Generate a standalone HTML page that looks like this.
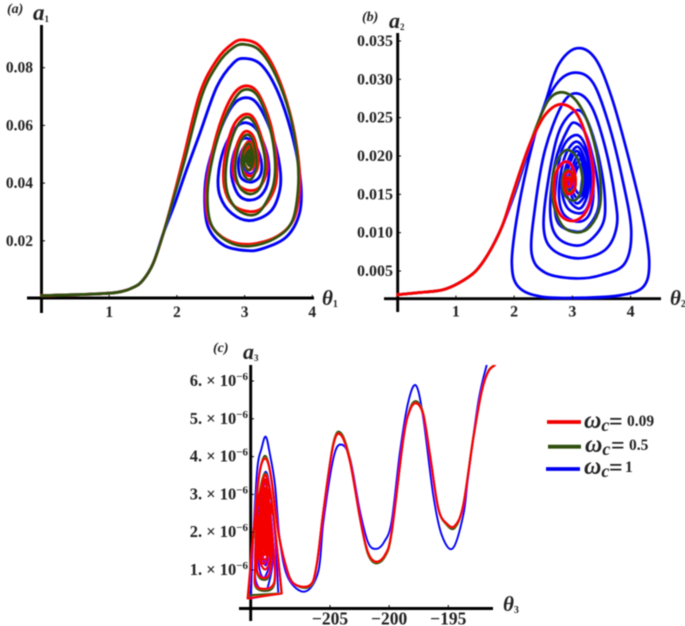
<!DOCTYPE html>
<html lang="en">
<head>
<meta charset="utf-8">
<title>Phase portraits a versus theta</title>
<style>
html,body{margin:0;padding:0;background:#fff;width:685px;height:626px;overflow:hidden}
svg{display:block}
text{font-family:"Liberation Serif",serif;fill:#222}
.tick{font-weight:bold}
.lab{font-weight:bold;font-style:italic}
</style>
</head>
<body>
<svg id="fig" xmlns="http://www.w3.org/2000/svg" width="685" height="626" viewBox="0 0 685 626">
<defs>
<filter id="soft" x="-2%" y="-2%" width="104%" height="104%"><feGaussianBlur stdDeviation="0.55"/></filter>
<clipPath id="clipC"><rect x="230" y="365" width="270" height="250"/></clipPath>
</defs>
<g id="root" filter="url(#soft)">

<line x1="41.5" y1="25" x2="41.5" y2="313" stroke="#000" stroke-width="2.9"/>
<line x1="27" y1="298" x2="314" y2="298" stroke="#000" stroke-width="2.9"/>
<line x1="397.7" y1="33" x2="397.7" y2="312" stroke="#000" stroke-width="2.9"/>
<line x1="384" y1="298.7" x2="661" y2="298.7" stroke="#000" stroke-width="2.9"/>
<line x1="250.7" y1="365" x2="250.7" y2="621" stroke="#000" stroke-width="2.9"/>
<line x1="239" y1="608.5" x2="493" y2="608.5" stroke="#000" stroke-width="2.9"/>

<g id="marks"></g>
<g id="ticks"></g>

<text class="lab" x="7" y="13" font-size="14">(a)</text>
<text class="lab" x="33" y="20" font-size="23">a<tspan font-size="9" font-style="normal" dy="2">1</tspan></text>
<text class="lab" x="322" y="305" font-size="21" font-weight="normal">θ<tspan font-size="10" font-style="normal" dy="2">1</tspan></text>

<text class="lab" x="362" y="21" font-size="14">(b)</text>
<text class="lab" x="389" y="28" font-size="22">a<tspan font-size="9" font-style="normal" dy="2">2</tspan></text>
<text class="lab" x="670" y="305" font-size="21" font-weight="normal">θ<tspan font-size="10" font-style="normal" dy="2">2</tspan></text>

<text class="lab" x="213" y="352" font-size="14">(c)</text>
<text class="lab" x="243" y="359" font-size="22">a<tspan font-size="9" font-style="normal" dy="2">3</tspan></text>
<text class="lab" x="503" y="611" font-size="21" font-weight="normal">θ<tspan font-size="10" font-style="normal" dy="2">3</tspan></text>

<g>
<line x1="547" y1="422" x2="581" y2="422" stroke="#f00000" stroke-width="3.8"/>
<text class="lab" x="584" y="428" font-size="24" fill="#333">ω<tspan font-size="18" dy="3">c</tspan></text>
<text class="tick" x="609" y="429" font-size="24">=</text>
<text class="tick" x="627" y="426" font-size="15.5">0.09</text>
<line x1="548" y1="446.7" x2="581" y2="446.7" stroke="#2f4f0a" stroke-width="3.8"/>
<text class="lab" x="585" y="452" font-size="24" fill="#333">ω<tspan font-size="18" dy="3">c</tspan></text>
<text class="tick" x="611" y="453" font-size="24">=</text>
<text class="tick" x="629" y="450" font-size="15.5">0.5</text>
<line x1="546" y1="469" x2="580" y2="469" stroke="#0000f0" stroke-width="3.8"/>
<text class="lab" x="584" y="474" font-size="24" fill="#333">ω<tspan font-size="18" dy="3">c</tspan></text>
<text class="tick" x="609" y="475" font-size="24">=</text>
<text class="tick" x="625" y="472" font-size="15.5">1</text>
</g>
</g>
</svg>

<script>
// Tick values
const ticksAx = [1, 2, 3, 4];
const ticksAy = ["0.02", "0.04", "0.06", "0.08"];
const ticksBx = [1, 2, 3, 4];
const ticksBy = ["0.005", "0.010", "0.015", "0.020", "0.025", "0.030", "0.035"];
const ticksCx = [-205, -200, -195];
const ticksCy = [1, 2, 3, 4, 5, 6];

// Panel (a): [theta1, a1]
const riseA = [[0,.001],[.62,.0014],[1.11,.0021],[1.36,.0039],[1.5,.0064],[1.65,.0122],[1.8,.0226]];
const panelARed = [[1.95,.0353],[2.09,.048],[2.34,.0711],[2.59,.0827],[2.83,.0885],[3,.0896],[3.23,.0873],[3.47,.0781],[3.67,.0642],[3.79,.0492],[3.81,.0376],[3.72,.0272],[3.47,.0214],[3.08,.0188],[2.74,.0203],[2.49,.0261],[2.43,.0353],[2.49,.0469],[2.64,.0607],[2.83,.0706],[3.02,.0737],[3.2,.0711],[3.38,.0607],[3.47,.048],[3.45,.0388],[3.28,.0318],[3.08,.0301],[2.83,.0324],[2.7,.0388],[2.71,.0492],[2.83,.0596],[3,.0638],[3.15,.0619],[3.3,.0515],[3.33,.0445],[3.23,.0388],[3.08,.0374],[2.91,.0393],[2.83,.0445],[2.88,.0526],[3,.0578],[3.13,.0561],[3.2,.0492],[3.18,.0445],[3.08,.0425],[2.97,.0445],[2.96,.0503],[3.06,.0544],[3.14,.0515],[3.14,.0463],[3.06,.0445],[2.98,.048],[3.06,.0526],[3.1,.0492],[3.06,.0469],[3.02,.0492]];
const panelAGreen = [[1.96,.0355],[2.12,.0485],[2.37,.0705],[2.61,.0815],[2.83,.0869],[3,.0881],[3.23,.0858],[3.47,.0769],[3.67,.0636],[3.78,.0492],[3.79,.0376],[3.7,.0266],[3.45,.0209],[3.08,.0182],[2.76,.0197],[2.51,.0255],[2.45,.0353],[2.51,.0469],[2.66,.0596],[2.86,.0694],[3.02,.0725],[3.2,.07],[3.37,.0596],[3.45,.048],[3.42,.0388],[3.25,.0309],[3.08,.0289],[2.86,.0316],[2.73,.0382],[2.74,.0486],[2.86,.0584],[3.02,.0628],[3.15,.0605],[3.28,.0515],[3.3,.0445],[3.22,.0382],[3.08,.0362],[2.93,.0385],[2.86,.0445],[2.91,.0526],[3.02,.0567],[3.12,.0549],[3.18,.048],[3.15,.0434],[3.07,.0411],[2.98,.0434],[2.96,.0492],[3.06,.0538],[3.13,.0492],[3.11,.0457],[3.04,.0445],[2.99,.048],[3.07,.0515],[3.11,.048],[3.07,.046],[3.02,.0486],[3.07,.0505],[3.09,.0482],[3.06,.0474],[3.05,.0492]];
const panelABlue = [[1.97,.033],[2.14,.0445],[2.34,.0573],[2.59,.0734],[2.83,.0815],[3,.0832],[3.25,.0809],[3.5,.0711],[3.72,.055],[3.83,.04],[3.81,.0295],[3.62,.0214],[3.28,.0174],[3.03,.0166],[2.69,.0185],[2.46,.0249],[2.41,.0353],[2.46,.0457],[2.64,.0584],[2.83,.0671],[3.02,.0696],[3.2,.0671],[3.4,.0573],[3.52,.0457],[3.52,.0376],[3.38,.0301],[3.08,.027],[2.81,.0295],[2.64,.0353],[2.61,.0422],[2.69,.0515],[2.86,.059],[3.03,.0609],[3.2,.0578],[3.34,.0492],[3.35,.0411],[3.25,.0359],[3.08,.0341],[2.91,.0359],[2.81,.0422],[2.83,.0492],[2.93,.0544],[3.04,.0555],[3.17,.0526],[3.25,.0469],[3.22,.0422],[3.08,.0403],[2.94,.0422],[2.91,.0474],[2.98,.052],[3.07,.053],[3.17,.0492],[3.15,.0445],[3.07,.0432],[2.98,.0451],[2.98,.0497]];

// Panel (b): [theta2, a2]
const riseB = [[0,.00191],[.35,.00217],[.76,.00252],[1.04,.00339],[1.33,.00491],[1.56,.0073],[1.79,.01078]];
const panelBBlue = [[1.99,.0147],[2.16,.01861],[2.33,.02252],[2.53,.02687],[2.76,.03187],[3.07,.03404],[3.39,.03274],[3.67,.02774],[3.96,.01991],[4.22,.01165],[4.32,.006],[4.22,.00296],[3.85,.00187],[3.22,.00152],[2.47,.00165],[2.07,.00296],[1.96,.006],[2.04,.01165],[2.22,.01861],[2.47,.02557],[2.76,.0297],[3.07,.03087],[3.36,.02948],[3.62,.02426],[3.85,.0173],[4.01,.01035],[3.9,.006],[3.5,.00448],[3.05,.00404],[2.53,.0048],[2.3,.0073],[2.36,.01339],[2.53,.02078],[2.82,.02665],[3.07,.02817],[3.33,.02643],[3.56,.02122],[3.73,.0147],[3.76,.01078],[3.56,.00774],[3.1,.00665],[2.67,.00774],[2.51,.01035],[2.56,.01557],[2.76,.02296],[3.05,.02591],[3.25,.0247],[3.45,.01991],[3.56,.01426],[3.5,.01078],[3.16,.00839],[2.76,.00926],[2.62,.01252],[2.7,.01904],[2.93,.02361],[3.07,.02426],[3.25,.02252],[3.42,.0173],[3.45,.01339],[3.27,.01078],[3.07,.01013],[2.76,.01122],[2.7,.0147],[2.82,.02078],[3.07,.02274],[3.25,.02078],[3.36,.016],[3.3,.01252],[3.1,.01143],[2.84,.01252],[2.77,.01557],[2.87,.01991],[3.07,.02187],[3.25,.01991],[3.32,.01557],[3.25,.01317],[3.1,.01252],[2.9,.01339],[2.82,.016],[2.93,.01948],[3.09,.02122],[3.23,.01904],[3.27,.01557],[3.19,.01361],[3.09,.01317],[2.94,.01426],[2.87,.01643],[2.99,.0197],[3.1,.02057],[3.22,.01817],[3.25,.01557],[3.16,.01426],[3.07,.01383],[2.99,.0147],[2.93,.01665],[3.02,.01904],[3.12,.02013],[3.21,.01774],[3.22,.01557],[3.13,.0147],[3.05,.0147],[2.99,.01622],[3.06,.01883],[3.16,.01948],[3.19,.0173],[3.19,.01535],[3.1,.01513],[3.03,.01622],[3.07,.01817],[3.17,.01883],[3.23,.01687],[3.19,.01513],[3.15,.01557],[3.19,.01774],[3.21,.01643]];
const panelBGreen = [[1.97,.0147],[2.14,.01861],[2.36,.02339],[2.59,.0273],[2.84,.0283],[3.1,.02687],[3.33,.02296],[3.47,.01774],[3.47,.01339],[3.3,.01078],[3.07,.01004],[2.82,.011],[2.66,.01426],[2.67,.01774],[2.76,.0197],[2.9,.02078],[3.07,.01991],[3.17,.0173],[3.13,.01513],[3.02,.01417],[2.87,.01491],[2.82,.01687],[2.9,.01817],[3.02,.01752],[3.05,.016],[2.94,.01535],[2.87,.01643],[2.93,.0173],[2.99,.01665]];
const panelBRed = [[1.96,.0147],[2.13,.01861],[2.3,.02209],[2.53,.02535],[2.79,.02674],[3.05,.02578],[3.22,.02296],[3.34,.01904],[3.36,.016],[3.25,.01296],[3.05,.01157],[2.82,.01209],[2.7,.01426],[2.7,.0173],[2.82,.01904],[2.96,.01904],[3.05,.0173],[3.03,.01557],[2.93,.01504],[2.86,.016],[2.87,.01752],[2.96,.01796],[3,.01687],[2.96,.016],[2.9,.01622],[2.9,.01709],[2.94,.01709],[2.96,.01652]];

// Panel (c): [theta3, a3 in units of 1e-6]
const panelCBlue = [[-191.76,6.42],[-192.46,5.45],[-193.31,3.51],[-193.73,2.46],[-194.63,1.57],[-195.56,1.93],[-196.27,2.98],[-197.11,5.01],[-197.73,5.88],[-198.38,5.45],[-199.08,4.13],[-199.79,2.28],[-200.41,1.75],[-201.06,1.56],[-201.76,1.71],[-202.46,2.54],[-203.31,3.95],[-204.07,4.32],[-204.72,3.95],[-205.56,2.28],[-205.99,.96],[-207.11,.43],[-208.52,.78],[-209.23,1.75],[-209.65,3.25],[-210.1,4.1],[-210.44,4.53],[-210.8,4.2],[-211.14,3.69],[-211.48,1.93],[-211.7,.25],[-209.37,.38],[-209.65,1.93],[-210.1,3.2],[-210.44,3.6],[-210.8,3.2],[-211.14,2.28],[-211.34,.87],[-210.77,.47],[-210.21,.6],[-209.79,1.57],[-210.44,3.29],[-211.06,1.93],[-210.97,1.04],[-210.49,.82],[-210.01,1.49],[-210.44,2.98],[-210.86,1.93],[-210.49,1.13],[-210.21,1.57],[-210.44,2.72]];
const panelCGreen = [[-191.1,6.42],[-191.65,6.25],[-192.2,5.72],[-192.9,4.48],[-193.73,2.72],[-194.44,2.12],[-195.14,2.2],[-195.85,2.63],[-196.55,4.04],[-197.11,5.13],[-197.68,5.46],[-198.24,5.27],[-198.8,4.48],[-199.79,1.98],[-200.35,1.36],[-201.14,1.18],[-201.82,1.45],[-202.46,2.37],[-203.31,3.92],[-204.07,4.62],[-204.72,4.35],[-205.56,2.54],[-206.13,1.09],[-206.69,.56],[-208.1,.65],[-208.8,1.18],[-209.37,2.01],[-209.93,3.38],[-210.49,4.02],[-211.06,3.38],[-211.48,1.93],[-211.9,.33],[-209.1,.38],[-209.45,1.49],[-209.93,2.81],[-210.49,3.56],[-211.14,2.63],[-211.34,1],[-211.2,.52],[-209.93,.5],[-209.65,1],[-210.07,2.46],[-210.49,3.38],[-210.97,2.46],[-211.2,1.18],[-210.97,.8],[-210.21,.8],[-209.93,1.36]];
const panelCRed = [[-191.06,6.42],[-191.62,6.25],[-192.18,5.72],[-192.89,4.48],[-193.73,2.72],[-194.44,2.17],[-195.14,2.23],[-195.85,2.63],[-196.55,4.04],[-197.11,5.1],[-197.68,5.41],[-198.24,5.23],[-198.8,4.48],[-199.79,2.01],[-200.35,1.4],[-201.14,1.22],[-201.82,1.49],[-202.46,2.37],[-203.31,3.87],[-204.07,4.57],[-204.72,4.31],[-205.56,2.54],[-206.13,1.13],[-206.69,.6],[-208.1,.65],[-208.8,1.18],[-209.37,2.01],[-209.93,3.34],[-210.2,3.8],[-210.49,3.95],[-210.8,3.8],[-211.06,3.34],[-211.48,1.93],[-211.96,.25],[-209.08,.38],[-209.45,1.49],[-209.93,2.81],[-210.2,3.3],[-210.49,3.51],[-210.8,3.2],[-211.14,2.63],[-211.34,1.04],[-211.2,.56],[-209.93,.56],[-209.65,1.04],[-210.07,2.46],[-210.49,3.34],[-210.97,2.46],[-211.2,1.22],[-210.97,.85],[-210.21,.85],[-209.93,1.4],[-210.21,2.46],[-210.49,3.12],[-210.92,2.28],[-211.03,1.4],[-210.63,1.04],[-210.21,1.13],[-210.01,1.75],[-210.35,2.81],[-210.63,2.9],[-210.97,1.93],[-210.77,1.22],[-210.35,1.31],[-210.07,2.1],[-210.49,2.72],[-210.77,2.1],[-210.63,1.4],[-210.21,1.75],[-210.44,2.54],[-210.77,1.93],[-211.14,2.01],[-209.93,2.01],[-211.06,2.81],[-209.93,2.63],[-210.92,1.57],[-210.01,1.57],[-211,2.4],[-210,2.3],[-210.9,1.8],[-210.05,1.9],[-210.85,3],[-210.15,3],[-210.8,1.45],[-210.2,1.45],[-210.7,2.6],[-210.3,2.6],[-210.9,2.1],[-210.1,2.2],[-210.8,2.75],[-210.2,2.75],[-210.85,1.7],[-210.15,1.7],[-210.6,3.2],[-210.35,3.2],[-210.5,1.5],[-210.5,2.9],[-210.4,1.4],[-210.4,2.8],[-210.6,1.6],[-210.6,2.6],[-210.3,1.6],[-210.3,2.4],[-210.7,1.7],[-210.7,2.2],[-210.2,2],[-210.2,1.5],[-210.45,1.9],[-210.55,2.2]];

// Axis functions
function xA(t){ return 41.5 + 67.7 * t; }
function yA(v){ return 298.5 - 2885 * v; }
function xB(t){ return 397.7 + 58.23 * t; }
function yB(v){ return 309.33 - 7667 * v; }
function xC(t){ return 330 + 11.83 * (t + 205); }
function yC(v){ return 570 - 37.8 * (v - 1); }

const NS = "http://www.w3.org/2000/svg";
const marks = document.getElementById("marks");
const ticks = document.getElementById("ticks");

// Smooth spline; a wide horizontal chord (over chordPx) stays a straight, cornered segment.
function smoothPath(pts, chordPx){
  function isChord(i){
    return i >= 0 && i < pts.length - 1 && Math.abs(pts[i + 1][0] - pts[i][0]) > chordPx;
  }
  let d = "M" + pts[0][0].toFixed(2) + " " + pts[0][1].toFixed(2);
  for (let i = 0; i < pts.length - 1; i++) {
    const p1 = pts[i], p2 = pts[i + 1];
    if (isChord(i)) {
      d += "L" + p2[0].toFixed(2) + " " + p2[1].toFixed(2);
      continue;
    }
    const p0 = isChord(i - 1) ? p1 : pts[Math.max(i - 1, 0)];
    const p3 = isChord(i + 1) ? p2 : pts[Math.min(i + 2, pts.length - 1)];
    const c1x = p1[0] + (p2[0] - p0[0]) / 6, c1y = p1[1] + (p2[1] - p0[1]) / 6;
    const c2x = p2[0] - (p3[0] - p1[0]) / 6, c2y = p2[1] - (p3[1] - p1[1]) / 6;
    d += "C" + c1x.toFixed(2) + " " + c1y.toFixed(2) + " " + c2x.toFixed(2) + " " + c2y.toFixed(2) + " " + p2[0].toFixed(2) + " " + p2[1].toFixed(2);
  }
  return d;
}
function drawSeries(data, fx, fy, color, width, name, chordPx, clip){
  const pts = data.map(function(p){ return [fx(p[0]), fy(p[1])]; });
  const el = document.createElementNS(NS, "path");
  el.setAttribute("d", smoothPath(pts, chordPx));
  el.setAttribute("fill", "none");
  el.setAttribute("stroke", color);
  el.setAttribute("stroke-width", width);
  el.setAttribute("stroke-linejoin", "round");
  el.setAttribute("stroke-linecap", "round");
  if (clip) { el.setAttribute("clip-path", clip); }
  
  
  marks.appendChild(el);
}
function addTick(x, y, str, anchor, size, name){
  const t = document.createElementNS(NS, "text");
  t.setAttribute("x", x);
  t.setAttribute("y", y);
  t.setAttribute("class", "tick");
  t.setAttribute("text-anchor", anchor);
  t.setAttribute("font-size", size);
  t.textContent = str;
  
  
  ticks.appendChild(t);
}
function addTickMark(x1, y1, x2, y2, name){
  const l = document.createElementNS(NS, "line");
  l.setAttribute("x1", x1);
  l.setAttribute("y1", y1);
  l.setAttribute("x2", x2);
  l.setAttribute("y2", y2);
  l.setAttribute("stroke", "#000");
  l.setAttribute("stroke-width", "1");
  
  
  ticks.appendChild(l);
}

const RED = "#f50000", GREEN = "#2f4f0a", BLUE = "#0000f5";

drawSeries(riseA.concat(panelABlue), xA, yA, BLUE, 2.9, "panel-a-curve-omega-1", Infinity);
drawSeries(riseA.concat(panelARed), xA, yA, RED, 2.9, "panel-a-curve-omega-0-09", Infinity);
drawSeries(riseA.concat(panelAGreen), xA, yA, GREEN, 2.8, "panel-a-curve-omega-0-5", Infinity);

drawSeries(riseB.concat(panelBBlue), xB, yB, BLUE, 2.7, "panel-b-curve-omega-1", Infinity);
drawSeries(riseB.concat(panelBGreen), xB, yB, GREEN, 2.7, "panel-b-curve-omega-0-5", Infinity);
drawSeries(riseB.concat(panelBRed), xB, yB, RED, 2.9, "panel-b-curve-omega-0-09", Infinity);

drawSeries(panelCBlue, xC, yC, BLUE, 1.9, "panel-c-curve-omega-1", 25, "url(#clipC)");
drawSeries(panelCGreen, xC, yC, GREEN, 2.1, "panel-c-curve-omega-0-5", 25, "url(#clipC)");
drawSeries(panelCRed, xC, yC, RED, 2.2, "panel-c-curve-omega-0-09", 25, "url(#clipC)");

ticksAx.forEach(function(t){
  addTick(xA(t), 317, String(t), "middle", 15.5, "panel-a-x-tick-" + t);
  addTickMark(xA(t), 295, xA(t), 298, "panel-a-x-tickmark-" + t);
});
ticksAy.forEach(function(t){
  addTick(33, yA(parseFloat(t)) + 5, t, "end", 15.5, "panel-a-y-tick-" + t);
  addTickMark(41.5, yA(parseFloat(t)), 45, yA(parseFloat(t)), "panel-a-y-tickmark-" + t);
});
ticksBx.forEach(function(t){
  addTick(xB(t), 316.5, String(t), "middle", 16, "panel-b-x-tick-" + t);
  addTickMark(xB(t), 295.5, xB(t), 298.7, "panel-b-x-tickmark-" + t);
});
ticksBy.forEach(function(t){
  addTick(393, yB(parseFloat(t)) + 5, t, "end", 16, "panel-b-y-tick-" + t);
  addTickMark(397.7, yB(parseFloat(t)), 401, yB(parseFloat(t)), "panel-b-y-tickmark-" + t);
});
ticksCx.forEach(function(t){
  addTick(xC(t), 624.5, "\u2212" + Math.abs(t), "middle", 17.5, "panel-c-x-tick-" + Math.abs(t));
  addTickMark(xC(t), 605, xC(t), 608.5, "panel-c-x-tickmark-" + Math.abs(t));
});
ticksCy.forEach(function(t){
  const lab = document.createElementNS(NS, "text");
  lab.setAttribute("x", 248);
  lab.setAttribute("y", yC(t) + 5);
  lab.setAttribute("class", "tick");
  lab.setAttribute("text-anchor", "end");
  lab.setAttribute("font-size", "16.5");
  
  
  const base = document.createElementNS(NS, "tspan");
  base.textContent = t + ". \u00d7 10";
  lab.appendChild(base);
  const sup = document.createElementNS(NS, "tspan");
  sup.setAttribute("font-size", "11");
  sup.setAttribute("dy", "-6");
  sup.textContent = "\u22126";
  lab.appendChild(sup);
  ticks.appendChild(lab);
  addTickMark(250.7, yC(t), 254, yC(t), "panel-c-y-tickmark-" + t);
});
</script>
</body>
</html>
